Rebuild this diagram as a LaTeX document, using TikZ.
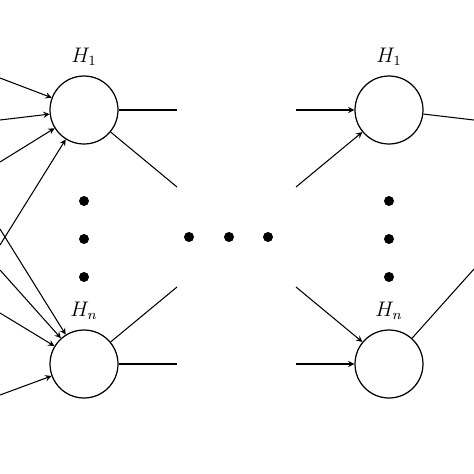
\documentclass[tikz,border=0pt]{standalone}
\usepackage{amsmath}
\usepackage{amssymb}
\usetikzlibrary{arrows}

\begin{document}
\begin{tikzpicture}[x=0.02cm, y=-0.02cm, >=stealth, line width=0.6pt,
	neurone/.style={draw, circle, minimum size=1.36cm, inner sep=0pt, line width=0.7pt},
	nom/.style={label distance=2pt, font=\large},
	point/.style={fill, circle, inner sep=0pt, minimum size=0.2cm}]
	\useasboundingbox (0, 0) rectangle (474, 474);
	\clip (0, 0) rectangle (474, 474);
	% Neurones
	\node[neurone, label={[nom]above:$H_1$}] (h1) at (84, 110) {};
	\node[neurone, label={[nom]above:$H_n$}] (hn) at (84, 364) {};
	\node[neurone, label={[nom]above:$H_1$}] (g1) at (389, 110) {};
	\node[neurone, label={[nom]above:$H_n$}] (gn) at (389, 364) {};
	% Entrees
	\foreach \y [count=\i] in {78, 120, 162, 245} {
		\coordinate (e\i) at (0, \y);
		\draw[->] (e\i) -- (h1);
	}
	\foreach \y [count=\i] in {229, 270, 313, 395} {
		\coordinate (f\i) at (0, \y);
		\draw[->] (f\i) -- (hn);
	}
	% Sorties de la premiere couche
	\coordinate (s1) at (177, 110);
	\coordinate (s2) at (177, 187);
	\coordinate (s3) at (177, 287);
	\coordinate (s4) at (177, 364);
	\draw (h1.east) -- (s1);
	\draw (h1) -- (s2);
	\draw (hn) -- (s3);
	\draw (hn.east) -- (s4);
	% Entrees de la derniere couche
	\coordinate (t1) at (296, 110);
	\coordinate (t2) at (296, 187);
	\coordinate (t3) at (296, 287);
	\coordinate (t4) at (296, 364);
	\draw[->] (t1) -- (g1.west);
	\draw[->] (t2) -- (g1);
	\draw[->] (t3) -- (gn);
	\draw[->] (t4) -- (gn.west);
	% Sorties
	\coordinate (o1) at (474, 120);
	\coordinate (o2) at (474, 269);
	\draw (g1) -- (o1);
	\draw (gn) -- (o2);
	% Points de suspension
	\foreach \y [count=\i] in {201, 239, 277} {
		\node[point] (pl\i) at (84, \y) {};
		\node[point] (pr\i) at (389, \y) {};
	}
	\foreach \x [count=\i] in {189, 229, 268}
		\node[point] (pm\i) at (\x, 237) {};
\end{tikzpicture}
\end{document}
